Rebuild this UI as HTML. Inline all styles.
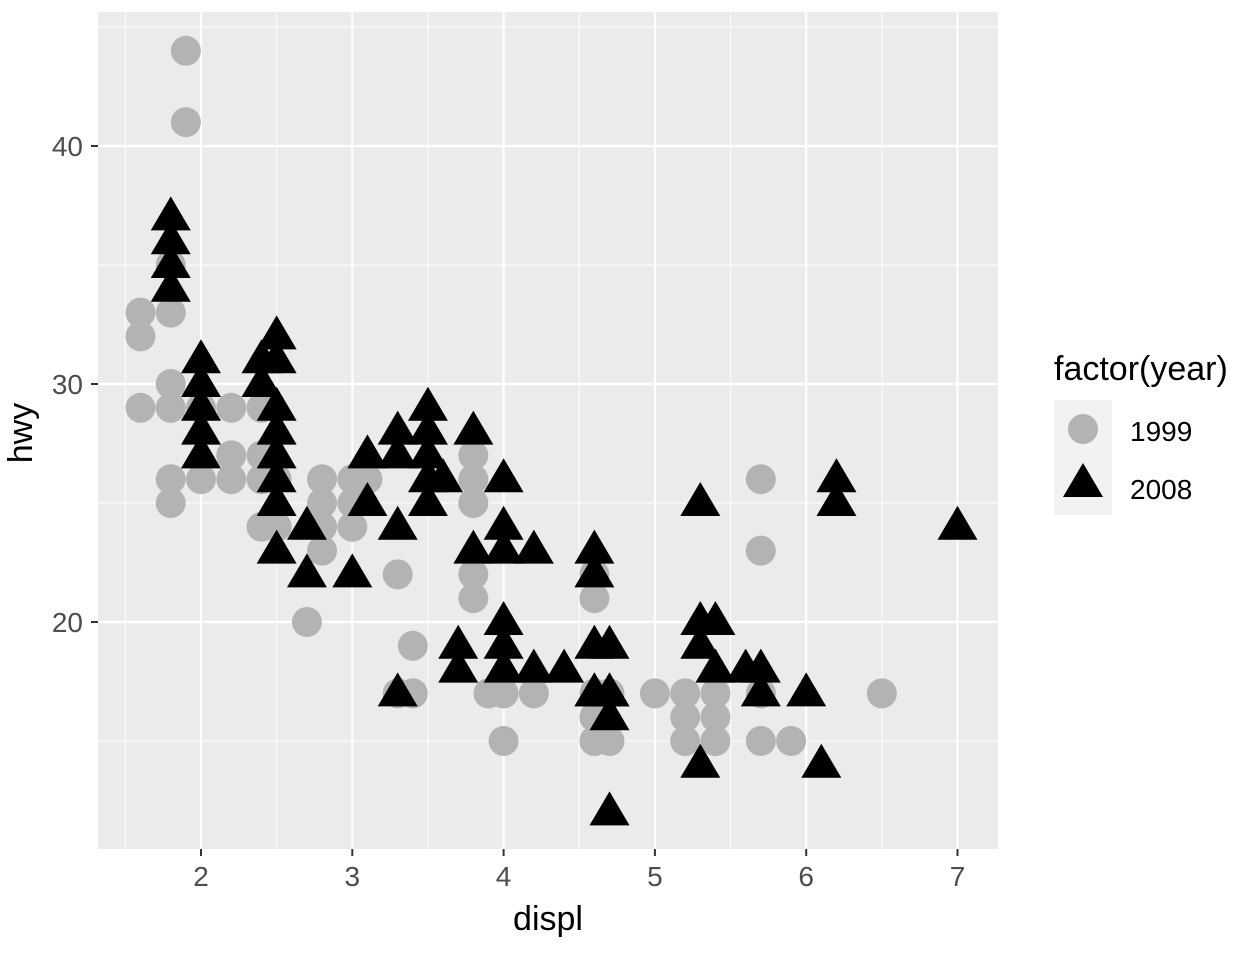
<!DOCTYPE html>
<html><head><meta charset="utf-8"><style>
html,body{margin:0;padding:0;background:#fff;}
svg{display:block;font-family:"Liberation Sans",Arial,sans-serif;}
</style></head><body>
<svg id="chart" width="1258" height="954" viewBox="0 0 1258 954">
<rect x="98" y="12" width="900" height="837" fill="#ebebeb"/>
<g id="grid"></g>
<g id="points"></g>
<g id="axes"></g>
<text x="548" y="930" font-size="34" text-anchor="middle" fill="#000">displ</text>
<text x="0" y="0" font-size="34" text-anchor="middle" fill="#000" transform="translate(32,433) rotate(-90)">hwy</text>
<g>
<text x="1054" y="380" font-size="34" fill="#000">factor(year)</text>
<rect x="1054" y="400" width="58" height="115" fill="#f2f2f2"/>
<circle cx="1083" cy="429" r="15" fill="#b3b3b3"/>
<polygon points="1083,463 1103,497 1063,497" fill="#000"/>
<text x="1130" y="441" font-size="28" fill="#000">1999</text>
<text x="1130" y="499" font-size="28" fill="#000">2008</text>
</g>
</svg>
<script>
const xTicks=[2,3,4,5,6,7];
const yTicks=[20,30,40];
const xMinor=[1.5,2.5,3.5,4.5,5.5,6.5];
const yMinor=[15,25,35,45];
const x1999=[1.6,1.6,1.6,1.8,1.8,1.8,1.8,1.8,1.8,1.8,1.9,1.9,2.0,2.0,2.2,2.2,2.2,2.4,2.4,2.4,2.4,2.5,2.5,2.7,2.8,2.8,2.8,2.8,3.0,3.0,3.0,3.1,3.3,3.3,3.4,3.4,3.8,3.8,3.8,3.8,3.8,3.9,4.0,4.0,4.2,4.6,4.6,4.6,4.6,4.6,4.7,4.7,5.0,5.2,5.2,5.2,5.4,5.4,5.4,5.7,5.7,5.7,5.7,5.9,6.5];
const y1999=[33,32,29,35,33,30,29,29,26,25,44,41,29,26,29,27,26,29,27,26,24,26,24,20,26,25,24,23,26,25,24,26,22,17,19,17,27,26,25,22,21,17,17,15,17,22,21,17,16,15,17,15,17,17,16,15,17,16,15,26,23,17,15,15,17];
const x2008=[1.8,1.8,1.8,1.8,2.0,2.0,2.0,2.0,2.0,2.4,2.4,2.5,2.5,2.5,2.5,2.5,2.5,2.5,2.5,2.7,2.7,3.0,3.1,3.1,3.3,3.3,3.3,3.3,3.5,3.5,3.5,3.5,3.5,3.6,3.7,3.7,3.8,3.8,4.0,4.0,4.0,4.0,4.0,4.0,4.2,4.2,4.4,4.6,4.6,4.6,4.6,4.6,4.7,4.7,4.7,4.7,4.7,5.3,5.3,5.3,5.3,5.4,5.4,5.6,5.7,5.7,6.0,6.1,6.2,6.2,7.0];
const y2008=[37,36,35,34,31,30,29,28,27,31,30,32,31,29,28,27,26,25,23,24,22,22,27,25,28,27,24,17,29,28,27,26,25,26,19,18,28,23,26,24,23,20,19,18,23,18,18,23,22,19,17,17,19,17,16,12,17,25,20,19,14,20,18,18,18,17,17,14,26,25,24];
const NS='http://www.w3.org/2000/svg';
const sx=v=>201+(v-2)*151.3;
const sy=v=>384-(v-30)*23.8;
function mk(tag,attrs,parent){const e=document.createElementNS(NS,tag);for(const k in attrs)e.setAttribute(k,attrs[k]);parent.appendChild(e);return e;}
const grid=document.getElementById('grid'),pts=document.getElementById('points'),axes=document.getElementById('axes');
xMinor.forEach(v=>{const l=mk('line',{x1:sx(v),x2:sx(v),y1:12,y2:849,stroke:'#fff','stroke-width':1},grid);

});
yMinor.forEach(v=>{const l=mk('line',{x1:98,x2:998,y1:sy(v),y2:sy(v),stroke:'#fff','stroke-width':1},grid);

});
xTicks.forEach(v=>{const l=mk('line',{x1:sx(v),x2:sx(v),y1:12,y2:849,stroke:'#fff','stroke-width':2.2},grid);


const t=mk('line',{x1:sx(v),x2:sx(v),y1:849,y2:856,stroke:'#333','stroke-width':2},axes);


const tx=mk('text',{x:sx(v),y:886,'font-size':28,'text-anchor':'middle',fill:'#4d4d4d'},axes);tx.textContent=v;

});
yTicks.forEach(v=>{const l=mk('line',{x1:98,x2:998,y1:sy(v),y2:sy(v),stroke:'#fff','stroke-width':2.2},grid);


const t=mk('line',{x1:91,x2:98,y1:sy(v),y2:sy(v),stroke:'#333','stroke-width':2},axes);


const tx=mk('text',{x:83,y:sy(v)+10,'font-size':28,'text-anchor':'end',fill:'#4d4d4d'},axes);tx.textContent=v;

});
x1999.forEach((v,i)=>{const c=mk('circle',{cx:sx(v),cy:sy(y1999[i]),r:15,fill:'#b3b3b3'},pts);

});
x2008.forEach((v,i)=>{const cx=sx(v),cy=sy(y2008[i]);
const p=mk('polygon',{points:`${cx},${cy-21} ${cx+20},${cy+13} ${cx-20},${cy+13}`,fill:'#000'},pts);

});
</script>
</body></html>
